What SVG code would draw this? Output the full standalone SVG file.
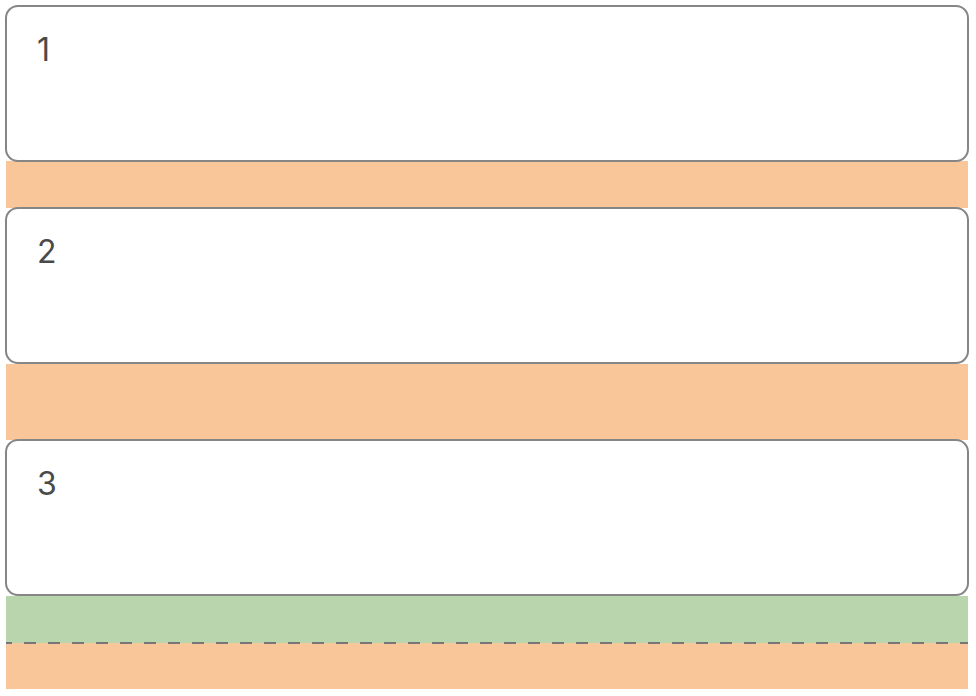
<svg xmlns="http://www.w3.org/2000/svg" width="976" height="696" viewBox="0 0 976 696">
<style>
.box{fill:#fff;stroke:#868686;stroke-width:2}
.lbl{font-family:Inter,"Liberation Sans",sans-serif;font-size:32px;fill:#4a4a4a}
.or{fill:#f8c698}
.gr{fill:#b9d5ad}
</style>
<rect width="976" height="696" fill="#fff"/>
<g id="bands">
<rect class="or" x="6" y="161" width="962" height="47"/>
<rect class="or" x="6" y="364" width="962" height="76"/>
<rect class="gr" x="6" y="596" width="962" height="47"/>
<rect class="or" x="6" y="643" width="962" height="46"/>
</g>
<g id="connectors">
<line x1="6" y1="643" x2="968" y2="643" stroke="#777" stroke-width="2" stroke-dasharray="12 12" stroke-dashoffset="6"/>
</g>
<g id="node1">
<rect class="box" x="6" y="6" width="962" height="155" rx="12"/>
<text class="lbl" x="37" y="61">1</text>
</g>
<g id="node2">
<rect class="box" x="6" y="208" width="962" height="155" rx="12"/>
<text class="lbl" x="37" y="263">2</text>
</g>
<g id="node3">
<rect class="box" x="6" y="440" width="962" height="155" rx="12"/>
<text class="lbl" x="37" y="495">3</text>
</g>
</svg>
